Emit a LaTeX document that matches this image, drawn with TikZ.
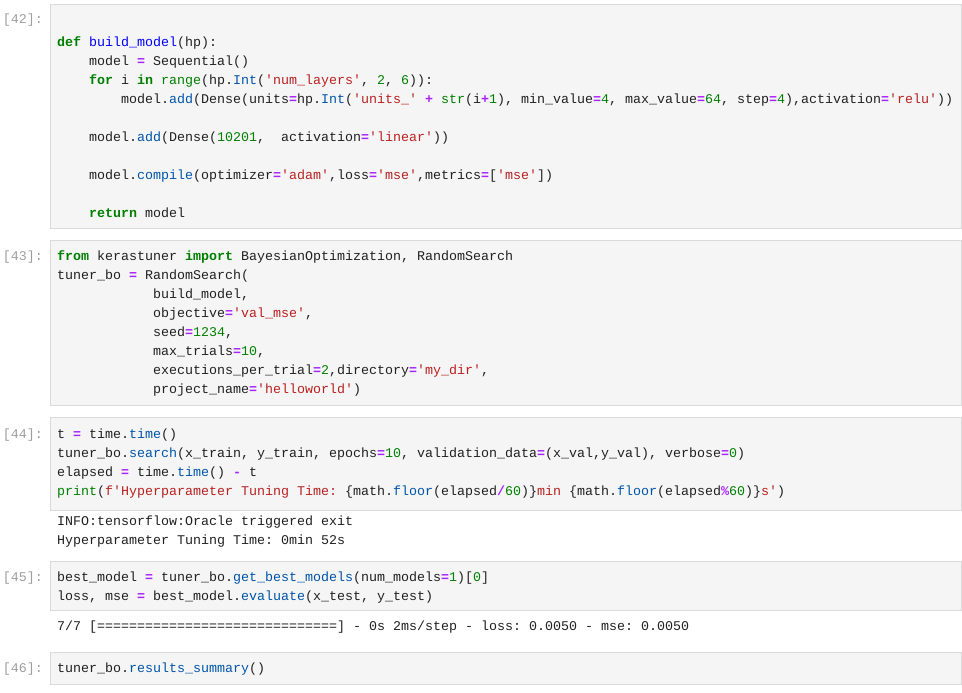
\documentclass[tikz,border=0pt]{standalone}
\usepackage{fontspec}
\newfontfamily\cf{Liberation Mono}
\definecolor{tx}{HTML}{212121}
\definecolor{kwc}{HTML}{008000}
\definecolor{stc}{HTML}{BA2121}
\definecolor{opc}{HTML}{AA22FF}
\definecolor{fnc}{HTML}{0000FF}
\definecolor{prc}{HTML}{0055AA}
\definecolor{pmc}{HTML}{9E9E9E}
\definecolor{cbg}{HTML}{F5F5F5}
\definecolor{cbd}{HTML}{DADADA}
\newcommand{\kw}[1]{\textcolor{kwc}{\bfseries #1}}
\newcommand{\bi}[1]{\textcolor{kwc}{#1}}
\newcommand{\nm}[1]{\textcolor{kwc}{#1}}
\newcommand{\st}[1]{\textcolor{stc}{#1}}
\newcommand{\op}[1]{\textcolor{opc}{\bfseries #1}}
\newcommand{\fn}[1]{\textcolor{fnc}{#1}}
\newcommand{\pr}[1]{\textcolor{prc}{#1}}
\newcommand{\eq}{\op{=}}
\frenchspacing
\begin{document}
\begin{tikzpicture}[x=1pt,y=-1pt,
  every node/.style={inner sep=0pt,font=\cf\fontsize{13.33}{16}\selectfont\frenchspacing,text=tx},
  cellbox/.style={fill=cbg,draw=cbd,line width=0.8pt},
  code/.style={anchor=base west},
  prompt/.style={anchor=base east,text=pmc}]
\useasboundingbox[fill=white] (0,0) rectangle (962,693);
% cell boxes
\draw[cellbox] (50.5,4.5) rectangle (961.5,228.5);
\draw[cellbox] (50.5,240.5) rectangle (961.5,405.5);
\draw[cellbox] (50.5,417.5) rectangle (961.5,510.5);
\draw[cellbox] (50.5,561.5) rectangle (961.5,610.5);
\draw[cellbox] (50.5,652.5) rectangle (961.5,684.5);
% prompts
\node[prompt] (p42) at (43,23.5) {[42]:};
\node[prompt] (p43) at (43,260.5) {[43]:};
\node[prompt] (p44) at (43,438.5) {[44]:};
\node[prompt] (p45) at (43,581.5) {[45]:};
\node[prompt] (p46) at (43,672.5) {[46]:};
% cell 42
\node[code] (a1) at (57,46.5) {\kw{def} \fn{build\_model}(hp):};
\node[code] (a2) at (89,65.5) {model \eq{} Sequential()};
\node[code] (a3) at (89,84.5) {\kw{for} i \kw{in} \bi{range}(hp.\pr{Int}(\st{'num\_layers'}, \nm{2}, \nm{6})):};
\node[code] (a4) at (121,103.5) {model.\pr{add}(Dense(units\eq{}hp.\pr{Int}(\st{'units\_'} \op{+} \bi{str}(i\op{+}\nm{1}), min\_value\eq\nm{4}, max\_value\eq\nm{64}, step\eq\nm{4}),activation\eq\st{'relu'}))};
\node[code] (a5) at (89,141.5) {model.\pr{add}(Dense(\nm{10201},~~activation\eq\st{'linear'}))};
\node[code] (a6) at (89,179.5) {model.\pr{compile}(optimizer\eq\st{'adam'},loss\eq\st{'mse'},metrics\eq[\st{'mse'}])};
\node[code] (a7) at (89,217.5) {\kw{return} model};
% cell 43
\node[code] (b1) at (57,260.5) {\kw{from} kerastuner \kw{import} BayesianOptimization, RandomSearch};
\node[code] (b2) at (57,279.5) {tuner\_bo \eq{} RandomSearch(};
\node[code] (b3) at (153,298.5) {build\_model,};
\node[code] (b4) at (153,317.5) {objective\eq\st{'val\_mse'},};
\node[code] (b5) at (153,336.5) {seed\eq\nm{1234},};
\node[code] (b6) at (153,355.5) {max\_trials\eq\nm{10},};
\node[code] (b7) at (153,374.5) {executions\_per\_trial\eq\nm{2},directory\eq\st{'my\_dir'},};
\node[code] (b8) at (153,393.5) {project\_name\eq\st{'helloworld'})};
% cell 44
\node[code] (c1) at (57,438.5) {t \eq{} time.\pr{time}()};
\node[code] (c2) at (57,457.5) {tuner\_bo.\pr{search}(x\_train, y\_train, epochs\eq\nm{10}, validation\_data\eq(x\_val,y\_val), verbose\eq\nm{0})};
\node[code] (c3) at (57,476.5) {elapsed \eq{} time.\pr{time}() \op{-} t};
\node[code] (c4) at (57,495.5) {\bi{print}(\st{f'Hyperparameter Tuning Time: }\{math.\pr{floor}(elapsed\op{/}\nm{60})\}\st{min }\{math.\pr{floor}(elapsed\op{\%}\nm{60})\}\st{s'})};
\node[code] (o1) at (57,525.5) {INFO:tensorflow:Oracle triggered exit};
\node[code] (o2) at (57,544.5) {Hyperparameter Tuning Time: 0min 52s};
% cell 45
\node[code] (d1) at (57,581.5) {best\_model \eq{} tuner\_bo.\pr{get\_best\_models}(num\_models\eq\nm{1})[\nm{0}]};
\node[code] (d2) at (57,600.5) {loss, mse \eq{} best\_model.\pr{evaluate}(x\_test, y\_test)};
\node[code] (o3) at (57,630.5) {7/7 [==============================] - 0s 2ms/step - loss: 0.0050 - mse: 0.0050};
% cell 46
\node[code] (e1) at (57,672.5) {tuner\_bo.\pr{results\_summary}()};
\end{tikzpicture}
\end{document}
